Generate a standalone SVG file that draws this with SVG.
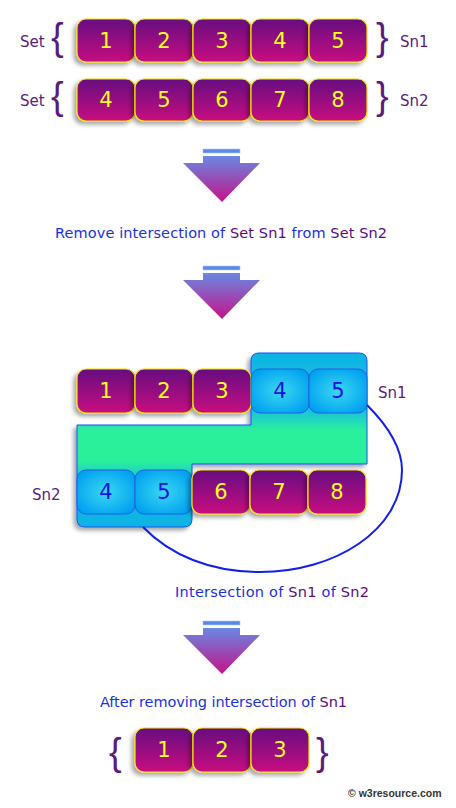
<svg xmlns="http://www.w3.org/2000/svg" width="456" height="808" viewBox="0 0 456 808">
<defs>
<linearGradient id="gBox" x1="0" y1="0" x2="0" y2="1">
<stop offset="0" stop-color="#661080"/>
<stop offset="1" stop-color="#c80c80"/>
</linearGradient>
<radialGradient id="gCyan" cx="0.5" cy="0.5" r="0.6">
<stop offset="0" stop-color="#3ad8f0"/>
<stop offset="1" stop-color="#00a0f0"/>
</radialGradient>
<linearGradient id="gArrow" x1="0" y1="0" x2="0" y2="1">
<stop offset="0" stop-color="#6a88e2"/>
<stop offset="1" stop-color="#c4128a"/>
</linearGradient>
<linearGradient id="gRegion" gradientUnits="userSpaceOnUse" x1="0" y1="353" x2="0" y2="527">
<stop offset="0" stop-color="#10b4e4"/>
<stop offset="0.33" stop-color="#18c2d8"/>
<stop offset="0.45" stop-color="#2cf09c"/>
<stop offset="0.62" stop-color="#2cf09c"/>
<stop offset="0.76" stop-color="#10b4e4"/>
<stop offset="1" stop-color="#10b4e4"/>
</linearGradient>
<filter id="sh" x="-20%" y="-20%" width="140%" height="150%">
<feDropShadow dx="-3" dy="3" stdDeviation="2" flood-color="#000" flood-opacity="0.35"/>
</filter>
<symbol id="arrow" overflow="visible">
<rect x="203" y="0" width="37" height="4" fill="#5a8ae8" stroke="#b0c4f0" stroke-width="0.6"/>
<polygon points="203,7 240,7 240,14 260,14 222,53 183,14 203,14" fill="url(#gArrow)"/>
</symbol>
</defs>
<style>
.box{fill:url(#gBox);stroke:#f4e400;stroke-width:1.2;filter:url(#sh)}
.cbox{fill:url(#gCyan);stroke:#2060e0;stroke-width:1}
.num{font-family:"DejaVu Sans",sans-serif;font-size:21px;fill:#ffff20;text-anchor:middle}
.cnum{font-family:"DejaVu Sans",sans-serif;font-size:21px;fill:#1010e0;text-anchor:middle}
.lbl{font-family:"DejaVu Sans",sans-serif;font-size:15px;fill:#5a1a80}
.brace{font-family:"Liberation Sans",sans-serif;font-size:38px;fill:#5a1a80}
.txt{font-family:"DejaVu Sans",sans-serif;font-size:14.5px;fill:#1a30e0}
.pur{fill:#5a0a80}
.copy{font-family:"Liberation Sans",sans-serif;font-size:10.5px;font-weight:bold;fill:#333}
</style>

<!-- Top set Sn1 -->
<g id="setSn1">
<text class="lbl" x="20" y="47">Set</text>
<text class="brace" x="51" y="50">{</text>
<g id="s1b1"><rect class="box" x="77" y="19" width="58" height="43" rx="9"/><text class="num" x="106" y="48">1</text></g>
<g id="s1b2"><rect class="box" x="135" y="19" width="58" height="43" rx="9"/><text class="num" x="164" y="48">2</text></g>
<g id="s1b3"><rect class="box" x="193" y="19" width="58" height="43" rx="9"/><text class="num" x="222" y="48">3</text></g>
<g id="s1b4"><rect class="box" x="251" y="19" width="58" height="43" rx="9"/><text class="num" x="280" y="48">4</text></g>
<g id="s1b5"><rect class="box" x="309" y="19" width="58" height="43" rx="9"/><text class="num" x="338" y="48">5</text></g>
<text class="brace" x="376" y="50">}</text>
<text class="lbl" x="400" y="47">Sn1</text>
</g>

<!-- Top set Sn2 -->
<g id="setSn2">
<text class="lbl" x="20" y="106">Set</text>
<text class="brace" x="51" y="109">{</text>
<g id="s2b1"><rect class="box" x="77" y="79" width="58" height="42" rx="9"/><text class="num" x="106" y="107">4</text></g>
<g id="s2b2"><rect class="box" x="135" y="79" width="58" height="42" rx="9"/><text class="num" x="164" y="107">5</text></g>
<g id="s2b3"><rect class="box" x="193" y="79" width="58" height="42" rx="9"/><text class="num" x="222" y="107">6</text></g>
<g id="s2b4"><rect class="box" x="251" y="79" width="58" height="42" rx="9"/><text class="num" x="280" y="107">7</text></g>
<g id="s2b5"><rect class="box" x="309" y="79" width="58" height="42" rx="9"/><text class="num" x="338" y="107">8</text></g>
<text class="brace" x="376" y="109">}</text>
<text class="lbl" x="400" y="106">Sn2</text>
</g>

<g id="arrow1"><use href="#arrow" y="149"/></g>

<g id="caption1">
<text class="txt" x="55" y="238" textLength="332" lengthAdjust="spacing">Remove intersection of <tspan class="pur">Set Sn1</tspan> from <tspan class="pur">Set Sn2</tspan></text>
</g>

<g id="arrow2"><use href="#arrow" y="266"/></g>

<!-- Intersection diagram -->
<g id="region">
<path d="M251,361 Q251,353 259,353 L359,353 Q367,353 367,361 L367,464 L192,464 L192,519 Q192,527 184,527 L85,527 Q77,527 77,519 L77,425 L251,425 Z" fill="url(#gRegion)" stroke="#1a50f0" stroke-width="1" filter="url(#sh)"/>
</g>

<g id="connectors">
<path d="M367,405 C387,425 402,447 402,470 C402,530 335,572 260,572 C210,572 170,555 143,527" fill="none" stroke="#1020e8" stroke-width="2"/>
</g>

<g id="rowA">
<g id="a1"><rect class="box" x="77" y="369" width="58" height="44" rx="9"/><text class="num" x="106" y="398">1</text></g>
<g id="a2"><rect class="box" x="135" y="369" width="58" height="44" rx="9"/><text class="num" x="164" y="398">2</text></g>
<g id="a3"><rect class="box" x="193" y="369" width="58" height="44" rx="9"/><text class="num" x="222" y="398">3</text></g>
<g id="a4"><rect class="cbox" x="251" y="369" width="58" height="44" rx="9"/><text class="cnum" x="280" y="398">4</text></g>
<g id="a5"><rect class="cbox" x="309" y="369" width="58" height="44" rx="9"/><text class="cnum" x="338" y="398">5</text></g>
<text class="lbl" x="378" y="398">Sn1</text>
</g>

<g id="rowB">
<text class="lbl" x="32" y="500">Sn2</text>
<g id="b1"><rect class="cbox" x="77" y="470" width="58" height="44" rx="9"/><text class="cnum" x="106" y="499">4</text></g>
<g id="b2"><rect class="cbox" x="135" y="470" width="57" height="44" rx="9"/><text class="cnum" x="164" y="499">5</text></g>
<g id="b3"><rect class="box" x="192" y="470" width="58" height="44" rx="9"/><text class="num" x="221" y="499">6</text></g>
<g id="b4"><rect class="box" x="250" y="470" width="58" height="44" rx="9"/><text class="num" x="279" y="499">7</text></g>
<g id="b5"><rect class="box" x="308" y="470" width="58" height="44" rx="9"/><text class="num" x="337" y="499">8</text></g>
</g>

<g id="caption2">
<text class="txt" x="175" y="597" textLength="194" lengthAdjust="spacing">Intersection of <tspan class="pur">Sn1</tspan> of <tspan class="pur">Sn2</tspan></text>
</g>

<g id="arrow3"><use href="#arrow" y="621"/></g>

<g id="caption3">
<text class="txt" x="100" y="707" textLength="247" lengthAdjust="spacing">After removing intersection of <tspan class="pur">Sn1</tspan></text>
</g>

<g id="result">
<text class="brace" x="109" y="765">{</text>
<g id="r1"><rect class="box" x="135" y="728" width="58" height="44" rx="9"/><text class="num" x="164" y="757">1</text></g>
<g id="r2"><rect class="box" x="193" y="728" width="58" height="44" rx="9"/><text class="num" x="222" y="757">2</text></g>
<g id="r3"><rect class="box" x="251" y="728" width="58" height="44" rx="9"/><text class="num" x="280" y="757">3</text></g>
<text class="brace" x="316" y="765">}</text>
</g>

<g id="copyright">
<text class="copy" x="348" y="797">© w3resource.com</text>
</g>
</svg>
